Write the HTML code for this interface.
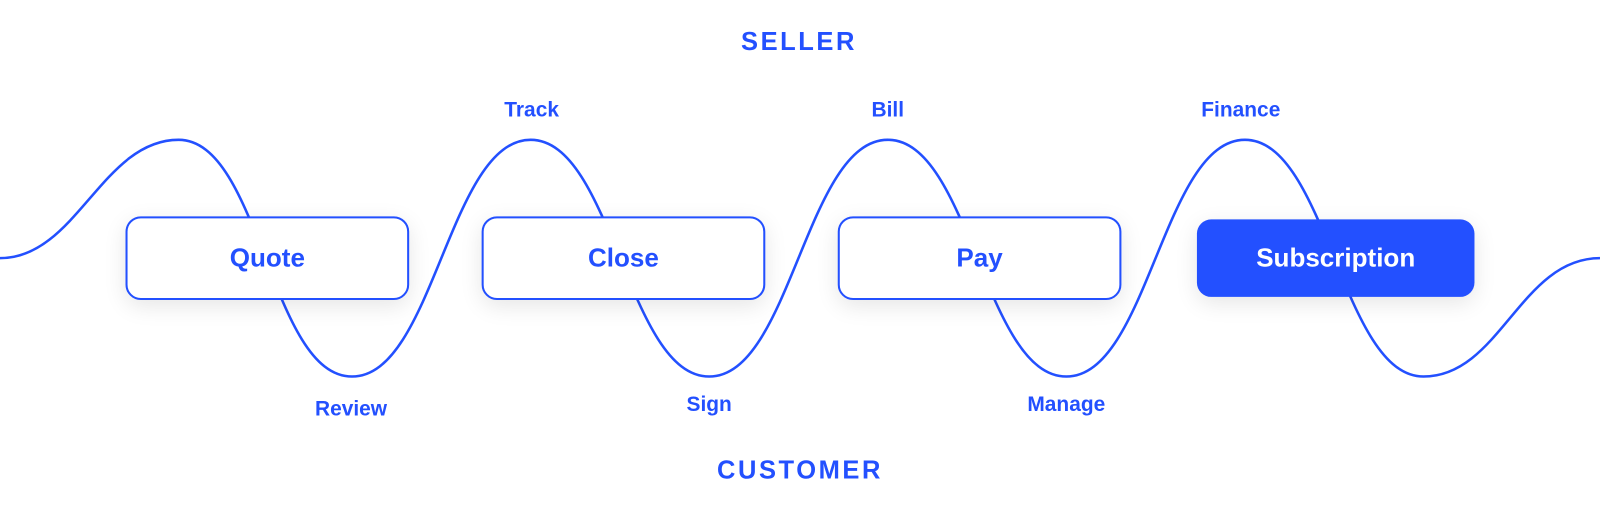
<!DOCTYPE html>
<html><head><style>
body{margin:0;width:1600px;height:516px;background:#fff;overflow:hidden;position:relative;font-family:"Liberation Sans",sans-serif;color:#2350ff}
#w{position:absolute;left:0;top:0;width:1568px;height:506px;transform:scale(1.0204);transform-origin:0 0}
svg{position:absolute;left:0;top:0}
.b{position:absolute;box-sizing:border-box;border:2.5px solid #2350ff;border-radius:15px;background:#fff;display:flex;align-items:center;justify-content:center;font-weight:bold;font-size:25.5px;box-shadow:0 6px 22px rgba(0,0,0,0.10)}
.f{background:#2350ff;color:#fff;border:none;border-radius:14px}
.l{position:absolute;font-size:20.5px;font-weight:bold;transform:translateX(-50%);white-space:nowrap}
.h{position:absolute;font-size:25px;font-weight:bold;letter-spacing:2.5px;transform:translateX(-50%)}
</style></head><body><div id="w">
<svg width="1568" height="506"><path fill="none" stroke="#2350ff" stroke-width="2.5" d="M0,253 C75,253 100,137 175,137 C255,137 265,369 345,369 C425,369 440,137 520,137 C600,137 615,369 695,369 C775,369 790,137 870,137 C950,137 965,369 1045,369 C1125,369 1140,137 1220,137 C1300,137 1315,369 1395,369 C1470,369 1490,253 1568,253"/></svg>
<div class="h" style="left:783px;top:27px">SELLER</div>
<div class="h" style="left:784px;top:447px">CUSTOMER</div>
<div class="l" style="left:521px;top:96px">Track</div>
<div class="l" style="left:870px;top:96px">Bill</div>
<div class="l" style="left:1216px;top:96px">Finance</div>
<div class="l" style="left:344px;top:389px">Review</div>
<div class="l" style="left:695px;top:385px">Sign</div>
<div class="l" style="left:1045px;top:385px">Manage</div>
<div class="b" style="left:123px;top:212px;width:278px;height:82px">Quote</div>
<div class="b" style="left:472px;top:212px;width:278px;height:82px">Close</div>
<div class="b" style="left:821px;top:212px;width:278px;height:82px">Pay</div>
<div class="b f" style="left:1173px;top:215px;width:272px;height:76px">Subscription</div>
</div></body></html>
